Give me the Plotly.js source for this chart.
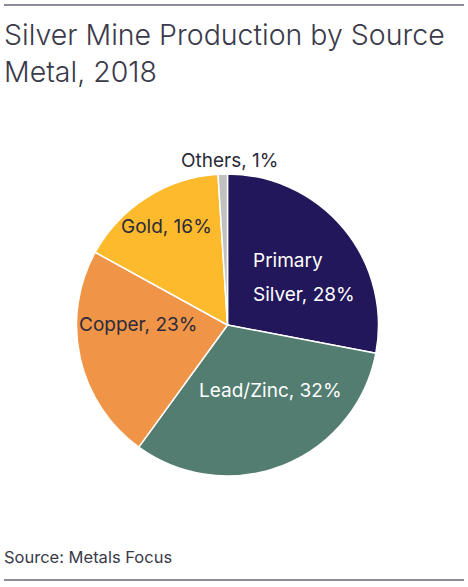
<!DOCTYPE html>
<html>
<head>
<meta charset="utf-8">
<script src="https://cdn.plot.ly/plotly-3.0.1.min.js"></script>
<style>
html,body{margin:0;padding:0;background:#fff;}
#chart{width:468px;height:587px;}
</style>
</head>
<body>
<div id="chart"></div>
<script>
// Data
const labels = ["Primary Silver", "Lead/Zinc", "Copper", "Gold", "Others"];
const values = [28, 32, 23, 16, 1];
const colors = ["#22175A", "#527D70", "#F09447", "#FDBA2C", "#C0C0C0"];
const titleText = "Silver Mine Production by Source<br>Metal, 2018";
const sourceText = "Source: Metals Focus";

const W = 468, H = 587;
const cx = 227.5, cy = 325, r = 151;
const px = x => x / W;
const py = y => 1 - y / H;

const trace = {
  type: "pie",
  labels: labels,
  values: values,
  sort: false,
  direction: "clockwise",
  rotation: 0,
  marker: {colors: colors, line: {color: "#ffffff", width: 1.5}},
  textinfo: "none",
  hoverinfo: "label+percent",
  showlegend: false,
  domain: {x: [px(cx - r), px(cx + r)], y: [py(cy + r), py(cy - r)]}
};

// label placement (layout only)
const labelFont = "Inter, 'Open Sans', sans-serif";
const dark = "#2b2b3b";
const lab = (i) => labels[i] + ", " + values[i] + "%";
const annotations = [
  {text: "Primary", x: px(251), y: py(260), xanchor: "left", color: "#ffffff"},
  {text: "Silver, " + values[0] + "%", x: px(251), y: py(295), xanchor: "left", color: "#ffffff"},
  {text: lab(1), x: px(270.5), y: py(390), xanchor: "center", color: "#ffffff"},
  {text: lab(2), x: px(138), y: py(324), xanchor: "center", color: dark},
  {text: lab(3), x: px(166), y: py(227), xanchor: "center", color: dark},
  {text: lab(4), x: px(229.5), y: py(160), xanchor: "center", color: dark},
  {text: sourceText, x: px(2), y: py(557), xanchor: "left", color: "#3a3a4a", size: 16.5}
].map(a => ({
  text: a.text, x: a.x, y: a.y, xref: "paper", yref: "paper",
  xanchor: a.xanchor, yanchor: "middle", showarrow: false,
  font: {family: labelFont, size: a.size || 19, color: a.color}
}));

const layout = {
  width: W, height: H,
  margin: {l: 0, r: 0, t: 0, b: 0},
  paper_bgcolor: "#ffffff",
  title: {
    text: titleText,
    x: px(4), xanchor: "left",
    y: py(45), yanchor: "top", yref: "container",
    font: {family: labelFont, size: 28.5, color: "#3a3a4a", weight: 300}
  },
  annotations: annotations,
  shapes: [
    {type: "line", xref: "paper", yref: "paper", x0: px(4), x1: px(464), y0: py(5), y1: py(5), line: {color: "#8c8c98", width: 2}},
    {type: "line", xref: "paper", yref: "paper", x0: px(4), x1: px(464), y0: py(580), y1: py(580), line: {color: "#8c8c98", width: 2}}
  ]
};

Plotly.newPlot("chart", [trace], layout, {displayModeBar: false, staticPlot: true});
</script>
</body>
</html>
